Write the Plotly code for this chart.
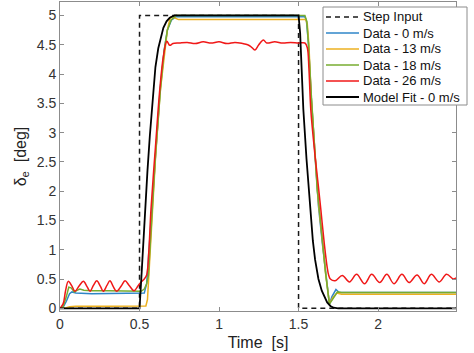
import plotly.graph_objects as go

# ---------------- data ----------------
step_t = [0, 0.5, 0.5, 1.5, 1.5, 2.49]
step_v = [0, 0, 5.0, 5.0, 0, 0]

d0_t = [0, 0.02, 0.04, 0.06, 0.075, 0.1, 0.2, 0.3, 0.4, 0.5, 0.53, 0.545, 0.56, 0.577, 0.6, 0.63,
        0.655, 0.675, 0.7, 0.73, 0.8, 1.0, 1.2, 1.4, 1.54, 1.55, 1.562, 1.58, 1.6, 1.625, 1.65,
        1.67, 1.694, 1.71, 1.735, 1.755, 1.78, 1.85, 2.0, 2.2, 2.49]
d0_v = [0, 0.02, 0.12, 0.25, 0.28, 0.26, 0.25, 0.25, 0.25, 0.25, 0.26, 0.42, 1.0, 1.69, 2.65, 3.75,
        4.4, 4.75, 4.92, 4.98, 4.98, 4.98, 4.98, 4.98, 4.98, 4.9, 4.53, 3.6, 2.7, 1.75, 1.1,
        0.6, 0.07, 0.2, 0.32, 0.27, 0.27, 0.27, 0.27, 0.27, 0.27]

d13_t = [0, 0.03, 0.06, 0.1, 0.3, 0.5, 0.54, 0.55, 0.56, 0.57, 0.58, 0.6, 0.63, 0.655, 0.675,
         0.69, 0.7, 0.72, 0.745, 0.8, 1.0, 1.2, 1.4, 1.545, 1.555, 1.565, 1.58, 1.6, 1.625,
         1.65, 1.67, 1.694, 1.715, 1.74, 1.77, 1.85, 2.0, 2.2, 2.49]
d13_v = [0, 0.0, 0.025, 0.035, 0.035, 0.035, 0.04, 0.15, 0.6, 1.15, 1.69, 2.55, 3.7, 4.35, 4.75,
         4.93, 4.98, 4.96, 4.93, 4.93, 4.93, 4.93, 4.93, 4.93, 4.85, 4.5, 3.6, 2.75, 1.8,
         1.15, 0.6, 0.08, 0.18, 0.26, 0.24, 0.24, 0.24, 0.24, 0.24]

d18_t = [0, 0.02, 0.04, 0.055, 0.07, 0.09, 0.11, 0.125, 0.15, 0.2, 0.3, 0.4, 0.5, 0.51, 0.53,
         0.545, 0.556, 0.566, 0.577, 0.6, 0.632, 0.655, 0.675, 0.7, 0.73, 0.8, 1.0, 1.2, 1.4,
         1.54, 1.552, 1.562, 1.58, 1.6, 1.618, 1.625, 1.65, 1.67, 1.694, 1.715, 1.745, 1.77,
         1.85, 2.0, 2.2, 2.49]
d18_v = [0, 0.03, 0.2, 0.36, 0.35, 0.28, 0.31, 0.33, 0.31, 0.3, 0.3, 0.29, 0.29, 0.29, 0.33,
         0.42, 0.56, 1.0, 1.6, 2.6, 3.75, 4.4, 4.75, 4.93, 5.0, 5.0, 5.0, 5.0, 5.0,
         5.0, 4.9, 4.53, 3.65, 2.7, 2.0, 1.85, 1.15, 0.6, 0.07, 0.16, 0.28, 0.27,
         0.27, 0.27, 0.27, 0.27]

d26_t = [0, 0.02, 0.035, 0.052, 0.075, 0.094, 0.12, 0.147, 0.17, 0.189, 0.21, 0.231, 0.255,
         0.272, 0.295, 0.314, 0.335, 0.356, 0.385, 0.409, 0.435, 0.465, 0.49, 0.51, 0.53,
         0.545, 0.558, 0.572, 0.6, 0.628, 0.65, 0.672, 0.69, 0.71, 0.75, 0.8, 0.85, 0.9, 0.95,
         1.0, 1.05, 1.1, 1.15, 1.18, 1.2, 1.226, 1.25, 1.279, 1.3, 1.35, 1.4, 1.45, 1.5, 1.54,
         1.555, 1.565, 1.577, 1.6, 1.62, 1.64, 1.66, 1.68, 1.69, 1.7, 1.73, 1.775, 1.82,
         1.865, 1.915, 1.96, 2.01, 2.055, 2.1, 2.15, 2.195, 2.245, 2.29, 2.335, 2.385, 2.43,
         2.475, 2.49]
d26_v = [0, 0.08, 0.3, 0.46, 0.38, 0.29, 0.38, 0.46, 0.37, 0.29, 0.39, 0.47, 0.37,
         0.29, 0.39, 0.47, 0.37, 0.29, 0.38, 0.47, 0.39, 0.3, 0.38, 0.45, 0.5,
         0.57, 0.95, 1.69, 2.75, 3.75, 4.3, 4.56, 4.49, 4.52, 4.53, 4.54, 4.52, 4.55, 4.53,
         4.55, 4.52, 4.54, 4.52, 4.5, 4.47, 4.41, 4.5, 4.58, 4.53, 4.55, 4.53, 4.54, 4.53, 4.53,
         4.45, 4.1, 3.39, 2.7, 2.2, 1.69, 1.15, 0.7, 0.56, 0.5, 0.47, 0.56, 0.45,
         0.58, 0.42, 0.58, 0.44, 0.58, 0.42, 0.58, 0.44, 0.57, 0.42, 0.58, 0.45, 0.58,
         0.5, 0.52]

fit_t = [0, 0.5, 0.51, 0.52, 0.535, 0.55, 0.565, 0.587, 0.6, 0.618, 0.635, 0.65, 0.67, 0.69,
         0.72, 0.75, 1.5, 1.51, 1.52, 1.53, 1.55, 1.572, 1.59, 1.604, 1.625, 1.646, 1.665,
         1.68, 1.7, 1.72, 1.75, 2.49]
fit_v = [0, 0, 0.45, 0.95, 1.69, 2.35, 2.95, 3.75, 4.12, 4.44, 4.65, 4.79, 4.9, 4.96,
         5.0, 5.0, 5.0, 4.7, 4.1, 3.4, 2.55, 1.69, 1.15, 0.83, 0.5, 0.3, 0.17,
         0.1, 0.04, 0.01, 0, 0]

series_names = ["Step Input", "Data - 0 m/s", "Data - 13 m/s", "Data - 18 m/s",
                "Data - 26 m/s", "Model Fit - 0 m/s"]

x_ticks = [0, 0.5, 1, 1.5, 2]
x_labels = ["0", "0.5", "1", "1.5", "2"]
y_ticks = [0, 0.5, 1, 1.5, 2, 2.5, 3, 3.5, 4, 4.5, 5]
y_labels = ["0", "0.5", "1", "1.5", "2", "2.5", "3", "3.5", "4", "4.5", "5"]

# ---------------- styling ----------------
FONT = "Arial, Liberation Sans, sans-serif"
styles = [
    dict(color="#1a1a1a", width=1.5, dash="5px,4px"),
    dict(color="#2F86C8", width=1.5),
    dict(color="#EDB120", width=1.5),
    dict(color="#77AC30", width=1.5),
    dict(color="#F01818", width=1.5),
    dict(color="#000000", width=1.8),
]
data = [(step_t, step_v), (d0_t, d0_v), (d13_t, d13_v), (d18_t, d18_v),
        (d26_t, d26_v), (fit_t, fit_v)]

fig = go.Figure()
for (t, v), name, st in zip(data, series_names, styles):
    if name == "Data - 26 m/s":
        line = dict(shape="spline", smoothing=1.0, **st)
    else:
        line = dict(shape="linear", **st)
    fig.add_trace(go.Scatter(x=t, y=v, mode="lines", name=name, showlegend=False, line=line))

axis_common = dict(showline=True, linecolor="#8c8c8c", linewidth=1, mirror="ticks",
                   ticks="inside", ticklen=4, tickcolor="#8c8c8c", showgrid=False,
                   zeroline=False, tickfont=dict(family=FONT, size=14, color="#333333"))

fig.update_xaxes(range=[0, 2.49], tickvals=x_ticks, ticktext=x_labels,
                 title=dict(text="Time\u00a0 [s]", font=dict(family=FONT, size=16, color="#222222"),
                            standoff=6),
                 **axis_common)
fig.update_yaxes(range=[-0.046, 5.23], tickvals=y_ticks, ticktext=y_labels,
                 title=dict(text="\u03b4<sub>e</sub>\u00a0 [deg]",
                            font=dict(family=FONT, size=16, color="#222222"), standoff=6),
                 **axis_common)

# ---------------- custom legend (pixel layout -> paper coords) ----------------
PL, PR, PT, PB = 60, 456, 2, 311
def px_x(p):
    return (p - PL) / (PR - PL)
def px_y(p):
    return (PB - p) / (PB - PT)

shapes = [dict(type="rect", xref="paper", yref="paper",
               x0=px_x(323), x1=px_x(467), y0=px_y(105), y1=px_y(7),
               line=dict(color="#8c8c8c", width=1), fillcolor="white", layer="above")]
annotations = []
row_y = [17, 33, 49, 65, 81, 97]
for ry, name, st in zip(row_y, series_names, styles):
    shapes.append(dict(type="line", xref="paper", yref="paper",
                       x0=px_x(326), x1=px_x(359), y0=px_y(ry), y1=px_y(ry),
                       line=dict(color=st["color"], width=st["width"],
                                 dash=st.get("dash", "solid")), layer="above"))
    annotations.append(dict(xref="paper", yref="paper", x=px_x(361), y=px_y(ry),
                            xanchor="left", yanchor="middle", showarrow=False, text=name,
                            font=dict(family=FONT, size=13, color="#111111")))

fig.update_layout(
    width=474, height=353,
    margin=dict(l=PL, r=474 - PR, t=PT, b=353 - PB),
    plot_bgcolor="white", paper_bgcolor="white",
    font=dict(family=FONT),
    shapes=shapes, annotations=annotations,
    showlegend=False,
)

fig.write_html("out.html")
